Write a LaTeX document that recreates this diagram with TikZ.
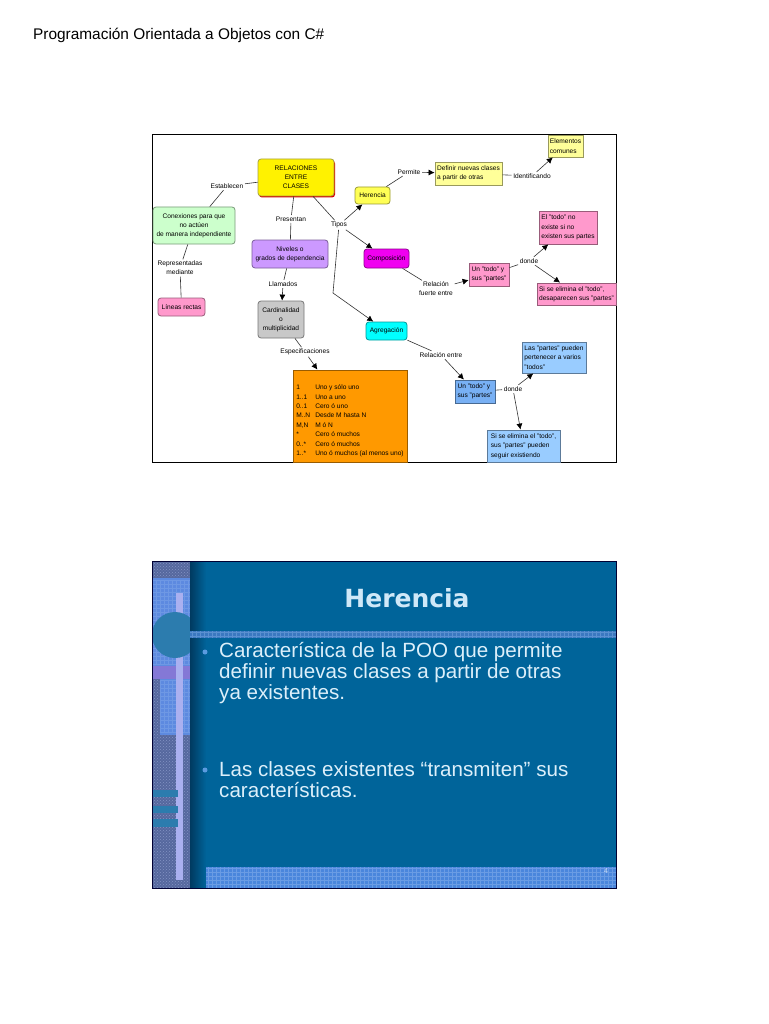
\documentclass[tikz,border=0pt]{standalone}
\usepackage{fontspec}
\setmainfont{Liberation Sans}
\newfontfamily\titlefont{DejaVu Sans}
\usetikzlibrary{arrows.meta, patterns, shadows}

\definecolor{slideblue}{HTML}{00649A}
\definecolor{slidedark}{HTML}{003A60}
\definecolor{slidetext}{HTML}{DCEFFA}
\definecolor{titletext}{HTML}{CFE8F8}
\definecolor{bandblue}{HTML}{4A86DC}
\definecolor{bandline}{HTML}{6A9CE4}
\definecolor{stripblue}{HTML}{3A78C0}
\definecolor{stripline}{HTML}{5A90D0}
\definecolor{panelblue}{HTML}{5D8AE0}
\definecolor{panelline}{HTML}{6E98E4}
\definecolor{panelgray}{HTML}{56689E}
\definecolor{paneldots}{HTML}{8493C4}
\definecolor{panelband}{HTML}{8478D6}
\definecolor{panelstrip}{HTML}{AAB0F0}
\definecolor{panelcircle}{HTML}{2C7CAE}
\definecolor{bulletblue}{HTML}{5B9BE0}
\definecolor{linkgray}{HTML}{333333}
\definecolor{palegreen}{HTML}{CCFFCC}
\definecolor{palepink}{HTML}{FF99CC}
\definecolor{palevioleet}{HTML}{CC99FF}
\definecolor{paleyellow}{HTML}{FFFF99}
\definecolor{midyellow}{HTML}{FFFF55}
\definecolor{paleblue}{HTML}{99CCFF}
\definecolor{midblue}{HTML}{78B0F4}
\definecolor{cardgray}{HTML}{C8C8C8}
\definecolor{mapmagenta}{HTML}{F000F0}
\definecolor{mapcyan}{HTML}{00FFFF}
\definecolor{maporange}{HTML}{FF9900}

\tikzset{
    lbl/.style={font=\fontsize{6.6}{8.9}\selectfont, text=black, align=center, inner sep=1.5pt},
    concept/.style={draw=#1!60!black, fill=#1, rounded corners=3pt, line width=.8pt, font=\fontsize{6.6}{9.2}\selectfont, text=black, align=center, inner sep=0pt},
    note/.style={draw=#1!60!black, fill=#1, line width=.8pt, font=\fontsize{6.6}{9.4}\selectfont, text=black, align=left, inner sep=0pt},
    link/.style={draw=linkgray, line width=.6pt},
    arrow/.style={link, -{Latex[black, length=6pt, width=6pt]}},
    slidetxt/.style={font=\fontsize{20.6}{21}\selectfont, text=slidetext, align=left, anchor=north west, inner sep=0pt},
    bullet/.style={circle, fill=bulletblue, inner sep=0pt, minimum size=5pt},
}

\begin{document}
\begin{tikzpicture}[x=1pt, y=-1pt]
    \useasboundingbox (0,0) rectangle (768,1024);
    \fill[white] (0,0) rectangle (768,1024);

    \node[anchor=west, inner sep=0pt, font=\fontsize{15.4}{18}\selectfont] (head) at (33,35.5) {Programación Orientada a Objetos con C\#};

    \draw[black, line width=1pt] (152,135) rectangle (616,462);

    \node[concept={yellow}, minimum width=76pt, minimum height=37pt, drop shadow={shadow xshift=1pt, shadow yshift=-1.5pt, opacity=1, fill=red!85!black}] (rel) at (296,177.5) {RELACIONES\\ENTRE\\CLASES};
    \node[lbl] (est) at (227,186) {Establecen};
    \node[concept={palegreen}, minimum width=82pt, minimum height=37pt] (con) at (194,225.5) {Conexiones para que\\no actúen\\de manera independiente};
    \node[lbl] (rep) at (180,268) {Representadas\\mediante};
    \node[concept={palepink}, minimum width=47pt, minimum height=18pt] (lin) at (181.5,307) {Líneas rectas};
    \node[lbl] (pre) at (291,219) {Presentan};
    \node[concept={palevioleet}, minimum width=76pt, minimum height=28pt] (niv) at (290,254) {Niveles o\\grados de dependencia};
    \node[lbl] (lla) at (283,284) {Llamados};
    \node[concept={cardgray}, minimum width=46pt, minimum height=37pt] (car) at (281,319.5) {Cardinalidad\\o\\multiplicidad};
    \node[lbl] (esp) at (305,352) {Especificaciones};
    \node[note={maporange}, minimum width=114pt, minimum height=92pt] (esc) at (350,416) {%
        \begin{tabular}{@{}p{19pt}@{}l@{}}
            & \\
            1 & Uno y sólo uno\\
            1..1 & Uno a uno\\
            0..1 & Cero ó uno\\
            M..N & Desde M hasta N\\
            M,N & M ó N\\
            {*} & Cero ó muchos\\
            0..* & Cero ó muchos\\
            1..* & Uno ó muchos (al menos uno)
        \end{tabular}};

    \node[lbl] (tip) at (339,225) {Tipos};
    \coordinate (bend) at (333,293);
    \node[concept={midyellow}, minimum width=35pt, minimum height=17pt] (her) at (372.5,195.5) {Herencia};
    \node[concept={mapmagenta}, minimum width=45pt, minimum height=19pt] (com) at (386.5,258.5) {Composición};
    \node[concept={mapcyan}, minimum width=41pt, minimum height=18pt] (agr) at (386.5,331) {Agregación};

    \node[lbl] (per) at (409,172) {Permite};
    \node[note={paleyellow}, minimum width=67pt, minimum height=23pt] (def) at (468.5,173.5) {Definir nuevas clases\\a partir de otras};
    \node[lbl] (ide) at (532,176) {Identificando};
    \node[note={paleyellow}, minimum width=35pt, minimum height=22pt] (ele) at (565.5,146) {Elementos\\comunes};

    \node[lbl] (rfe) at (436,289) {Relación\\fuerte entre};
    \node[note={palepink}, minimum width=40pt, minimum height=23pt] (unp) at (489,274.5) {Un "todo" y\\sus "partes"};
    \node[lbl] (dop) at (529,261) {donde};
    \node[note={palepink}, minimum width=58pt, minimum height=33pt] (exi) at (568,227.5) {El "todo" no\\existe si no\\existen sus partes};
    \node[note={palepink}, minimum width=79pt, minimum height=22pt] (des) at (576.5,294) {Si se elimina el "todo",\\desaparecen sus "partes"};

    \node[lbl] (ren) at (441,355) {Relación entre};
    \node[note={midblue}, minimum width=40pt, minimum height=23pt] (unb) at (475,391.5) {Un "todo" y\\sus "partes"};
    \node[lbl] (dob) at (513,389) {donde};
    \node[note={paleblue}, minimum width=64pt, minimum height=31pt] (pue) at (554,357.5) {Las "partes" pueden\\pertenecer a varios\\"todos"};
    \node[note={paleblue}, minimum width=73pt, minimum height=32pt] (sig) at (523.5,446) {Si se elimina el "todo",\\sus "partes" pueden\\seguir existiendo};

    \draw[link] (rel) -- (est);
    \draw[link] (est) -- (con);
    \draw[link] (con) -- (rep);
    \draw[link] (rep) -- (lin);
    \draw[link] (rel) -- (pre);
    \draw[link] (pre) -- (niv);
    \draw[link] (niv) -- (lla);
    \draw[arrow] (lla) -- (car);
    \draw[link] (car) -- (esp);
    \draw[arrow] (esp) -- (esc);
    \draw[link] (rel) -- (tip);
    \draw[arrow] (tip) -- (her);
    \draw[arrow] (tip) -- (com);
    \draw[arrow] (tip) -- (bend) -- (agr);
    \draw[link] (her) -- (per);
    \draw[arrow] (per) -- (def);
    \draw[link] (def) -- (ide);
    \draw[arrow] (ide) -- (ele);
    \draw[link] (com) -- (rfe);
    \draw[arrow] (rfe) -- (unp);
    \draw[link] (unp) -- (dop);
    \draw[arrow] (dop) -- (exi);
    \draw[arrow] (dop) -- (des);
    \draw[link] (agr) -- (ren);
    \draw[arrow] (ren) -- (unb);
    \draw[link] (unb) -- (dob);
    \draw[arrow] (dob) -- (pue);
    \draw[arrow] (dob) -- (sig);

    \fill[slideblue] (152,561) rectangle (616,888);
    \fill[panelgray] (152,561) rectangle (190,888);
    \fill[pattern=crosshatch dots, pattern color=paneldots] (152,561) rectangle (190,888);
    \fill[panelblue] (160,578) rectangle (190,735);
    \fill[panelblue] (152,578) rectangle (160,668);
    \fill[panelband] (152,666) rectangle (190,679);
    \draw[panelline, line width=.3pt, step=4pt] (152,580) grid (190,664);
    \draw[panelline, line width=.3pt, step=4pt] (160,680) grid (190,732);
    \fill[panelstrip] (176,593) rectangle (183,880);
    \begin{scope}
        \clip (152,561) rectangle (190,888);
        \fill[panelcircle] (175,635) circle (23);
    \end{scope}
    \fill[panelcircle] (152,790) rectangle (178,797);
    \fill[panelcircle] (152,806) rectangle (178,813);
    \fill[panelcircle] (152,819) rectangle (178,827);
    \shade[left color=slidedark, right color=slideblue] (190,561) rectangle (206,888);
    \fill[stripblue] (190,631) rectangle (616,638);
    \draw[stripline, line width=.3pt, step=4pt] (190,631) grid (616,638);
    \fill[bandblue] (206,867) rectangle (616,888);
    \draw[bandline, line width=.3pt, step=4pt] (206,867) grid (616,888);
    \draw[black!80!blue, line width=1pt] (152,561) rectangle (616,888);

    \node[inner sep=0pt, text=titletext, font=\titlefont\bfseries\fontsize{25}{29}\selectfont] (tit) at (407,598) {Herencia};
    \node[bullet] (b1) at (205,652) {};
    \node[slidetxt] (t1) at (219,642) {Característica de la POO que permite\\definir nuevas clases a partir de otras\\ya existentes.};
    \node[bullet] (b2) at (205,770) {};
    \node[slidetxt] (t2) at (219,761) {Las clases existentes “transmiten” sus\\características.};
    \node[inner sep=0pt, text=white!70!bandblue, font=\fontsize{7}{8}\selectfont] (num) at (606,871) {4};
\end{tikzpicture}
\end{document}
